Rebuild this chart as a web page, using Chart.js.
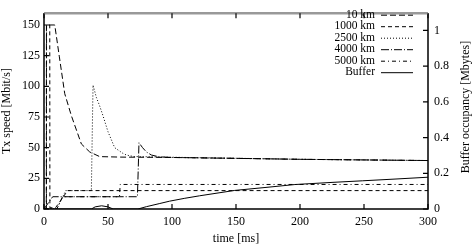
<!DOCTYPE html>
<html><head><meta charset="utf-8">
<script src="https://cdn.jsdelivr.net/npm/chart.js@4/dist/chart.umd.min.js"></script>
<style>html,body{margin:0;padding:0;background:#fff;}#wrap{width:474px;height:244px;}</style>
</head><body><div id="wrap"><canvas id="c" width="474" height="244"></canvas></div>
<script>
// ---- data ----
const xTicks = [0, 50, 100, 150, 200, 250, 300];
const yTicks = [0, 25, 50, 75, 100, 125, 150];
const y2Ticks = [0, 0.2, 0.4, 0.6, 0.8, 1];
const seriesNames = ["10 km", "1000 km", "2500 km", "4000 km", "5000 km", "Buffer"];

const t10km = [0, 1.8, 1.9, 8.4, 12, 16.2, 21.4, 29.2, 35.7, 43.5, 60, 100, 150, 200, 250, 300];
const v10km = [0, 0, 150, 150, 124, 94, 76, 53, 46.5, 42.7, 42.3, 42, 41.3, 40.5, 40, 39.5];

const t1000km = [0, 1.9, 2.0, 4.5, 4.6, 9, 18.5, 300];
const v1000km = [0, 0, 150, 150, 1, 1, 15, 15];

const t2500km = [0, 10, 17, 37, 38.3, 40.9, 43.5, 46.1, 50, 55.2, 61.7, 64.4, 70, 100, 200, 300];
const v2500km = [0, 0, 15, 15, 101, 91, 84, 76, 63, 50, 45.3, 44, 42.8, 42.2, 40.5, 39.5];

const t4000km = [0, 6.8, 73, 74.2, 77, 80, 83.9, 90, 100, 200, 300];
const v4000km = [0, 10, 10, 54, 50, 46.5, 44, 42.5, 42, 40.5, 39.5];

const t5000km = [0, 10, 14.5, 59, 59.5, 300];
const v5000km = [0, 0, 10, 10, 20, 20];

const tBuffer = [0, 37, 40, 45, 50, 54, 73.4, 80, 90, 98.2, 110, 121.6, 149, 175, 196, 225, 249, 275, 300];
const vBuffer = [0, 0, 0.012, 0.018, 0.012, 0, 0, 0.013, 0.03, 0.044, 0.06, 0.074, 0.104, 0.122, 0.137, 0.149, 0.158, 0.168, 0.178];

const dashes = [[6, 3], [4, 3], [1, 2], [8, 2, 1, 2], [4, 3, 1, 3], []];
const FONT = "'Liberation Serif', 'Times New Roman', serif";

function pts(ts, vs) { return ts.map((t, i) => ({ x: t, y: vs[i] })); }
const seriesData = [
  pts(t10km, v10km), pts(t1000km, v1000km), pts(t2500km, v2500km),
  pts(t4000km, v4000km), pts(t5000km, v5000km), pts(tBuffer, vBuffer)
];

const datasets = seriesNames.map((name, i) => ({
  label: name,
  data: seriesData[i],
  yAxisID: i === 5 ? 'y2' : 'y',
  borderColor: '#000',
  borderWidth: 1,
  borderDash: dashes[i],
  pointRadius: 0,
  fill: false,
  tension: 0
}));

function keepTicks(list) {
  return function (scale) {
    scale.ticks = list.map(v => ({ value: v }));
  };
}

const frame = {
  id: 'frame',
  afterDraw(chart) {
    const ctx = chart.ctx, a = chart.chartArea;
    const sx = chart.scales.x, sy = chart.scales.y, sy2 = chart.scales.y2;
    ctx.save();
    ctx.strokeStyle = '#000';
    ctx.lineWidth = 1.5;
    ctx.setLineDash([]);
    ctx.beginPath();
    ctx.moveTo(a.left, a.top); ctx.lineTo(a.left, a.bottom); ctx.lineTo(a.right, a.bottom); ctx.lineTo(a.right, a.top);
    ctx.stroke();
    ctx.strokeStyle = '#999';
    ctx.lineWidth = 2.5;
    ctx.beginPath(); ctx.moveTo(a.left, a.top); ctx.lineTo(a.right, a.top); ctx.stroke();
    ctx.strokeStyle = '#000';
    ctx.lineWidth = 1.2;
    const L = 5;
    ctx.beginPath();
    xTicks.forEach(v => {
      const x = sx.getPixelForValue(v);
      ctx.moveTo(x, a.bottom); ctx.lineTo(x, a.bottom - L);
      ctx.moveTo(x, a.top); ctx.lineTo(x, a.top + L);
    });
    yTicks.forEach(v => {
      const y = sy.getPixelForValue(v);
      ctx.moveTo(a.left, y); ctx.lineTo(a.left + L, y);
    });
    y2Ticks.forEach(v => {
      const y = sy2.getPixelForValue(v);
      ctx.moveTo(a.right, y); ctx.lineTo(a.right - L, y);
    });
    ctx.stroke();
    // key (legend) in gnuplot style
    ctx.font = '11.5px ' + FONT;
    ctx.fillStyle = '#000';
    ctx.textAlign = 'right';
    ctx.textBaseline = 'middle';
    chart.data.datasets.forEach((ds, i) => {
      const y = 14.7 + i * 11.5;
      ctx.fillText(ds.label, 375, y);
      ctx.setLineDash(ds.borderDash);
      ctx.lineWidth = 1;
      ctx.beginPath(); ctx.moveTo(381, y + 0.5); ctx.lineTo(413, y + 0.5); ctx.stroke();
    });
    ctx.setLineDash([]);
    // right axis title, reading bottom to top
    ctx.font = '12px ' + FONT;
    ctx.save();
    ctx.translate(466, 107);
    ctx.rotate(-Math.PI / 2);
    ctx.textAlign = 'center';
    ctx.fillText('Buffer occupancy [Mbytes]', 0, 0);
    ctx.restore();
    ctx.restore();
  }
};

new Chart(document.getElementById('c'), {
  type: 'line',
  data: { datasets },
  options: {
    responsive: false,
    animation: false,
    devicePixelRatio: 1,
    layout: { padding: { top: 1, left: 0, right: 0, bottom: 0 } },
    plugins: { legend: { display: false }, tooltip: { enabled: false } },
    scales: {
      x: {
        type: 'linear', min: 0, max: 300,
        afterBuildTicks: keepTicks(xTicks),
        afterFit(s) { s.height = 35; },
        grid: { display: false, drawTicks: false },
        border: { display: false },
        ticks: { color: '#000', padding: 6, maxRotation: 0, autoSkip: false, font: { family: FONT, size: 12 } },
        title: { display: true, text: 'time [ms]', color: '#000', padding: { top: 0, bottom: -2 }, font: { family: FONT, size: 12 } }
      },
      y: {
        type: 'linear', position: 'left', min: 0, max: 159.6,
        afterBuildTicks: keepTicks(yTicks),
        afterFit(s) { s.width = 44; },
        grid: { display: false, drawTicks: false },
        border: { display: false },
        ticks: { color: '#000', padding: 4, autoSkip: false, font: { family: FONT, size: 12 } },
        title: { display: true, text: 'Tx speed [Mbit/s]', color: '#000', padding: { top: 0, bottom: 0 }, font: { family: FONT, size: 12 } }
      },
      y2: {
        type: 'linear', position: 'right', min: 0, max: 1.0965,
        afterBuildTicks: keepTicks(y2Ticks),
        afterFit(s) { s.width = 46; },
        grid: { display: false, drawTicks: false },
        border: { display: false },
        ticks: { color: '#000', padding: 6, autoSkip: false, font: { family: FONT, size: 12 },
          callback: v => String(Math.round(v * 10) / 10) }
      }
    }
  },
  plugins: [frame]
});
</script>
</body></html>
